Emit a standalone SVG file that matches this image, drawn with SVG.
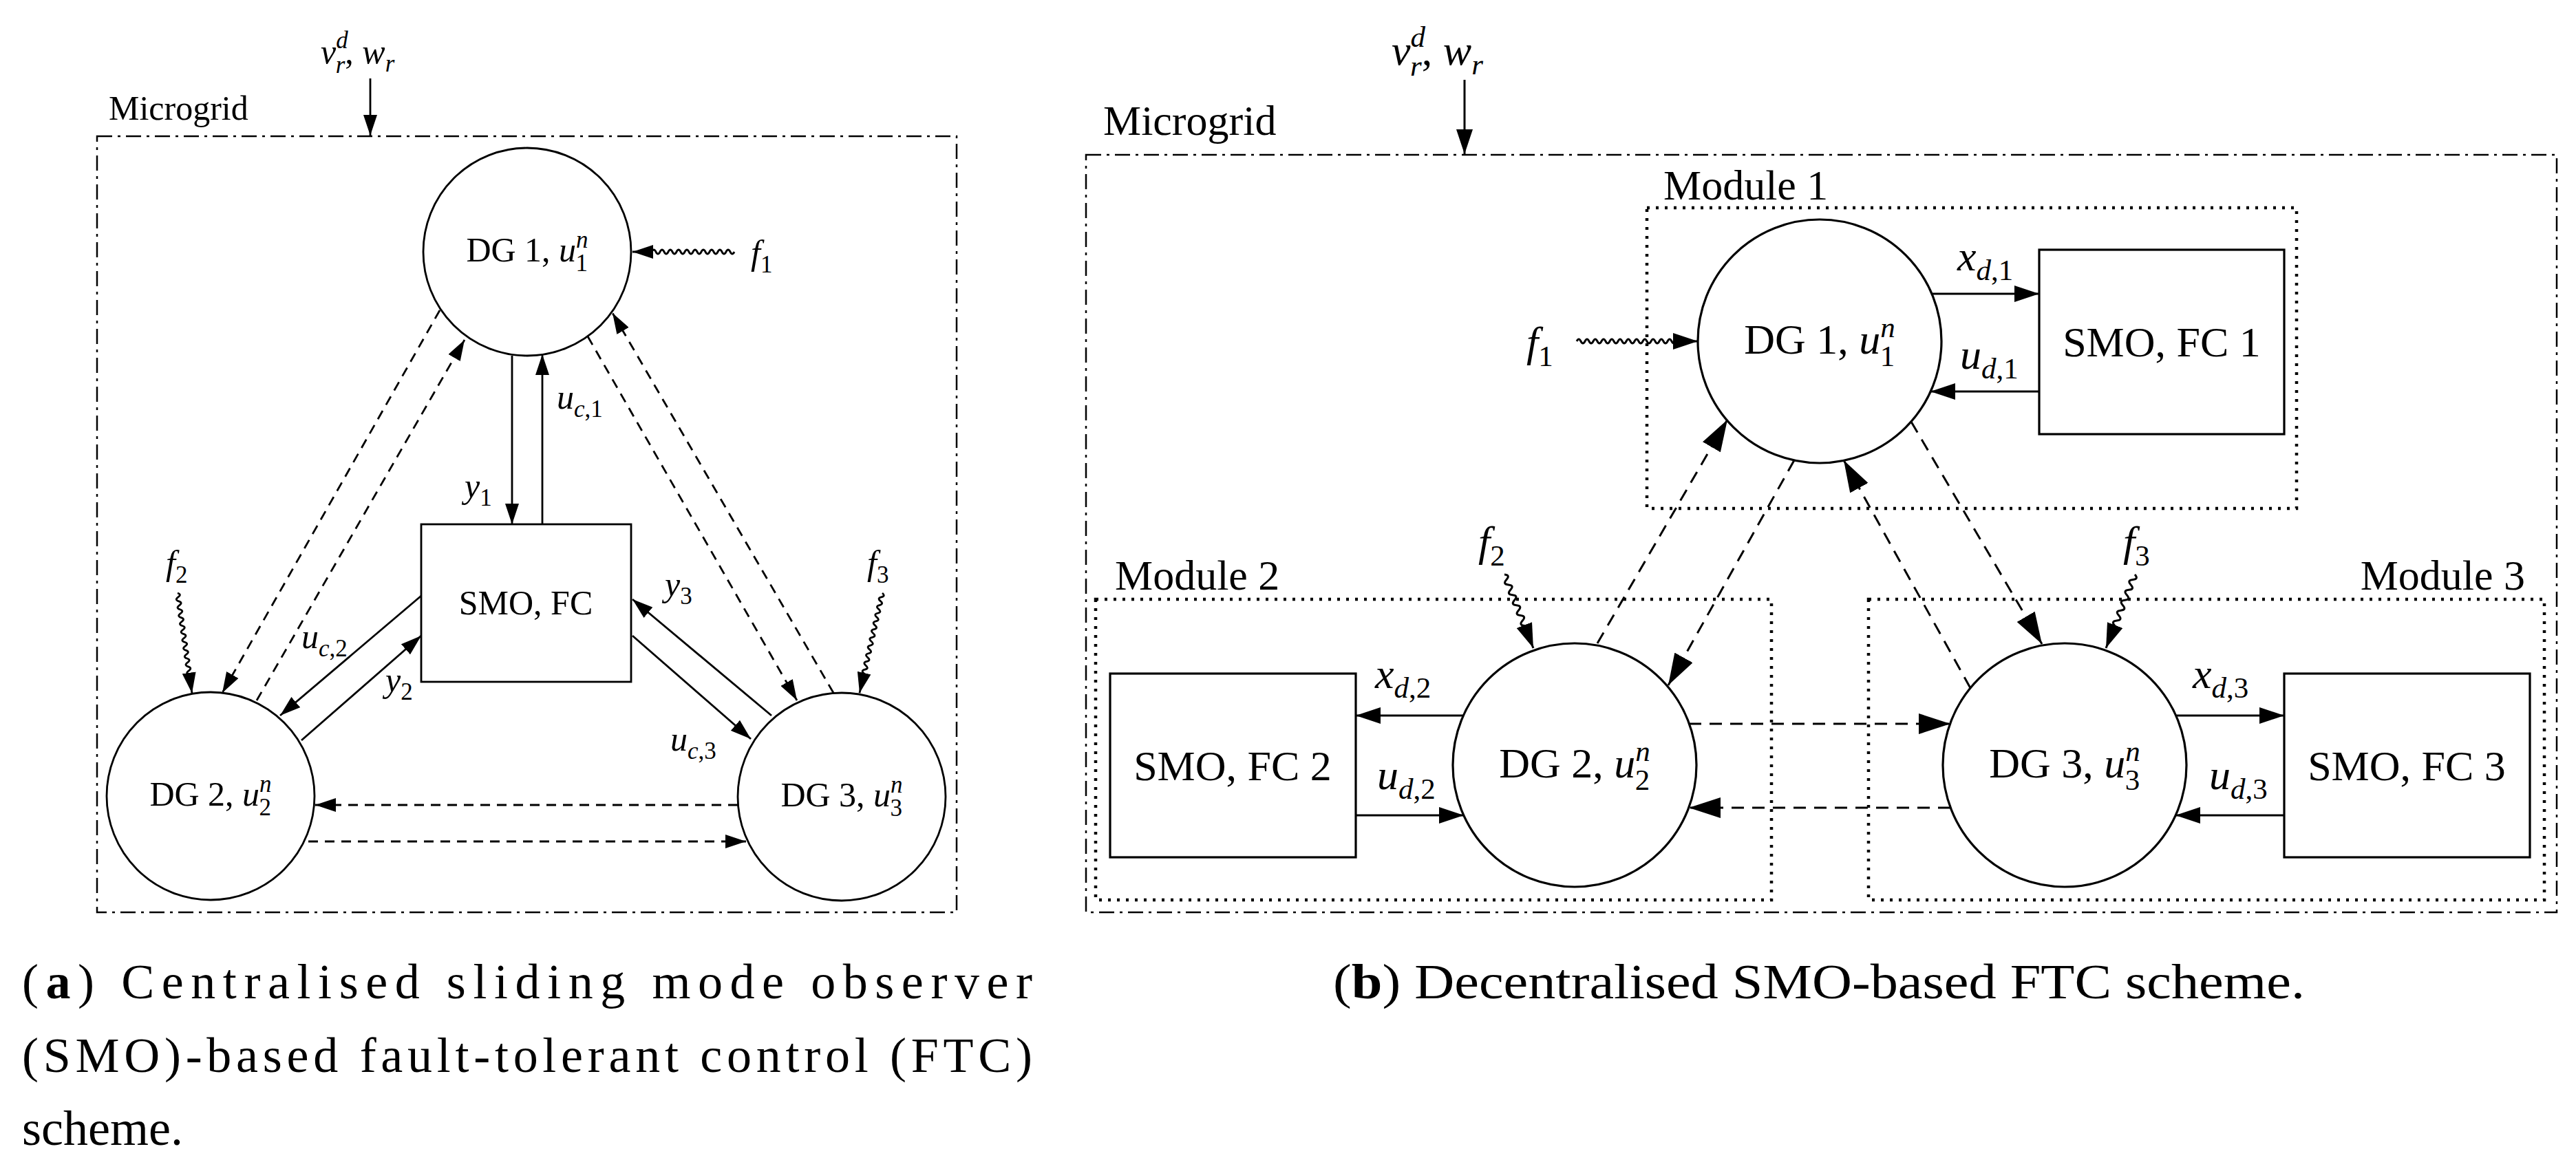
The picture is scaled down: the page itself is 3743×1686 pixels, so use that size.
<svg xmlns="http://www.w3.org/2000/svg" width="3743" height="1686" viewBox="0 0 3743 1686">
<style>
text{font-family:"Liberation Serif","Times New Roman",serif;fill:#000}
.L{font-size:50px}
.R{font-size:62px}
.i{font-style:italic}
.ln{stroke:#000;stroke-width:2.8;fill:none}
.lnR{stroke:#000;stroke-width:3;fill:none}
.ds{stroke-dasharray:14 10}
.dsR{stroke-dasharray:18 12}
.dd{stroke:#000;stroke-width:2.5;fill:none;stroke-dasharray:22 8 4 8}
.dot{stroke:#000;stroke-width:4.5;fill:none;stroke-dasharray:4 9}
.node{stroke:#000;stroke-width:2.8;fill:#fff}
.nodeR{stroke:#000;stroke-width:3.2;fill:#fff}
.cap{font-size:72px}
</style>
<defs>
<marker id="a" markerUnits="userSpaceOnUse" markerWidth="30" markerHeight="20" refX="30" refY="10" orient="auto"><path d="M0,0 L30,10 L0,20 z"/></marker>
<marker id="b" markerUnits="userSpaceOnUse" markerWidth="36" markerHeight="24" refX="36" refY="12" orient="auto"><path d="M0,0 L36,12 L0,24 z"/></marker>
<marker id="c" markerUnits="userSpaceOnUse" markerWidth="46" markerHeight="30" refX="46" refY="15" orient="auto"><path d="M0,0 L46,15 L0,30 z"/></marker>
</defs>

<!-- Panel (a) -->
<g id="microgridA">
<rect class="dd" x="141" y="198" width="1249" height="1128"/>
<text class="L" x="158" y="174">Microgrid</text>
<text class="L" x="466" y="92"><tspan class="i">v</tspan><tspan class="i" font-size="35" dy="-22">d</tspan><tspan class="i" font-size="35" dx="-18" dy="36">r</tspan><tspan dy="-14">, </tspan><tspan class="i">w</tspan><tspan class="i" font-size="35" dy="12">r</tspan></text>
</g>
<g id="DG1a"><circle class="node" cx="766" cy="366" r="151"/>
<text class="L" x="766" y="380" text-anchor="middle">DG 1, <tspan class="i">u</tspan><tspan class="i" font-size="35" dy="-20">n</tspan><tspan font-size="35" dx="-18" dy="34">1</tspan></text></g>
<g id="DG2a"><circle class="node" cx="306" cy="1157" r="151"/>
<text class="L" x="306" y="1171" text-anchor="middle">DG 2, <tspan class="i">u</tspan><tspan class="i" font-size="35" dy="-20">n</tspan><tspan font-size="35" dx="-18" dy="34">2</tspan></text></g>
<g id="DG3a"><circle class="node" cx="1223" cy="1158" r="151"/>
<text class="L" x="1223" y="1172" text-anchor="middle">DG 3, <tspan class="i">u</tspan><tspan class="i" font-size="35" dy="-20">n</tspan><tspan font-size="35" dx="-18" dy="34">3</tspan></text></g>
<g id="SMOa"><rect class="node" x="612" y="762" width="305" height="229"/>
<text class="L" x="764" y="893" text-anchor="middle">SMO, FC</text></g>

<g id="connectorsA">
<line class="ln" x1="744" y1="517" x2="744" y2="762" marker-end="url(#a)"/>
<line class="ln" x1="788" y1="762" x2="788" y2="515" marker-end="url(#a)"/>
<line class="ln" x1="612" y1="866" x2="407" y2="1040" marker-end="url(#a)"/>
<line class="ln" x1="438" y1="1076" x2="612" y2="924" marker-end="url(#a)"/>
<line class="ln" x1="1121" y1="1040" x2="919" y2="871" marker-end="url(#a)"/>
<line class="ln" x1="919" y1="924" x2="1091" y2="1074" marker-end="url(#a)"/>
<line class="ln ds" x1="639" y1="451" x2="323" y2="1007" marker-end="url(#a)"/>
<line class="ln ds" x1="373" y1="1018" x2="675" y2="494" marker-end="url(#a)"/>
<line class="ln ds" x1="854" y1="489" x2="1158" y2="1018" marker-end="url(#a)"/>
<line class="ln ds" x1="1211" y1="1007" x2="890" y2="455" marker-end="url(#a)"/>
<line class="ln ds" x1="1072" y1="1170" x2="458" y2="1170" marker-end="url(#a)"/>
<line class="ln ds" x1="448" y1="1223" x2="1084" y2="1223" marker-end="url(#a)"/>
<line class="ln" x1="538" y1="114" x2="538" y2="197" marker-end="url(#a)" stroke-width="3.5"/>
<path class="ln" transform="translate(1067,366) rotate(180)" d="M0,0 q3,-6 6,0 t6,0 t6,0 t6,0 t6,0 t6,0 t6,0 t6,0 t6,0 t6,0 t6,0 t6,0 t6,0 t6,0 t6,0 t6,0 t6,0 t6,0 t6,0 t6,0 L148,0" marker-end="url(#a)"/>
<path class="ln" transform="translate(258,862) rotate(81.8)" d="M0,0 q3,-6 6,0 t6,0 t6,0 t6,0 t6,0 t6,0 t6,0 t6,0 t6,0 t6,0 t6,0 t6,0 t6,0 t6,0 t6,0 t6,0 t6,0 t6,0 t6,0 t6,0 L147,0" marker-end="url(#a)"/>
<path class="ln" transform="translate(1282,862) rotate(102.8)" d="M0,0 q3,-6 6,0 t6,0 t6,0 t6,0 t6,0 t6,0 t6,0 t6,0 t6,0 t6,0 t6,0 t6,0 t6,0 t6,0 t6,0 t6,0 t6,0 t6,0 t6,0 t6,0 L149,0" marker-end="url(#a)"/>
<text class="L" x="809" y="594"><tspan class="i">u</tspan><tspan font-size="35" dy="12"><tspan class="i">c</tspan>,1</tspan></text>
<text class="L" x="675" y="723"><tspan class="i">y</tspan><tspan font-size="35" dy="12">1</tspan></text>
<text class="L" x="438" y="942"><tspan class="i">u</tspan><tspan font-size="35" dy="12"><tspan class="i">c</tspan>,2</tspan></text>
<text class="L" x="560" y="1005"><tspan class="i">y</tspan><tspan font-size="35" dy="12">2</tspan></text>
<text class="L" x="966" y="866"><tspan class="i">y</tspan><tspan font-size="35" dy="12">3</tspan></text>
<text class="L" x="974" y="1091"><tspan class="i">u</tspan><tspan font-size="35" dy="12"><tspan class="i">c</tspan>,3</tspan></text>
<text class="L" x="1091" y="384"><tspan class="i">f</tspan><tspan font-size="35" dy="12">1</tspan></text>
<text class="L" x="241" y="835"><tspan class="i">f</tspan><tspan font-size="35" dy="12">2</tspan></text>
<text class="L" x="1260" y="835"><tspan class="i">f</tspan><tspan font-size="35" dy="12">3</tspan></text>
</g>

<!-- Panel (b) -->
<g id="microgridB">
<rect class="dd" x="1578" y="225" width="2137" height="1101"/>
<text class="R" x="1603" y="196">Microgrid</text>
<text class="R" x="2022" y="94"><tspan class="i">v</tspan><tspan class="i" font-size="43" dy="-26">d</tspan><tspan class="i" font-size="43" dx="-22" dy="42">r</tspan><tspan dy="-16">, </tspan><tspan class="i">w</tspan><tspan class="i" font-size="43" dy="14">r</tspan></text>
</g>
<g id="module1"><rect class="dot" x="2393" y="302" width="944" height="437"/><text class="R" x="2417" y="290">Module 1</text></g>
<g id="module2"><rect class="dot" x="1592" y="871" width="982" height="437"/><text class="R" x="1620" y="857">Module 2</text></g>
<g id="module3"><rect class="dot" x="2715" y="871" width="982" height="437"/><text class="R" x="3669" y="857" text-anchor="end">Module 3</text></g>
<g id="DG1b"><circle class="nodeR" cx="2644" cy="496" r="177"/>
<text class="R" x="2644" y="514" text-anchor="middle">DG 1, <tspan class="i">u</tspan><tspan class="i" font-size="43" dy="-24">n</tspan><tspan font-size="43" dx="-22" dy="42">1</tspan></text></g>
<g id="DG2b"><circle class="nodeR" cx="2288" cy="1112" r="177"/>
<text class="R" x="2288" y="1130" text-anchor="middle">DG 2, <tspan class="i">u</tspan><tspan class="i" font-size="43" dy="-24">n</tspan><tspan font-size="43" dx="-22" dy="42">2</tspan></text></g>
<g id="DG3b"><circle class="nodeR" cx="3000" cy="1112" r="177"/>
<text class="R" x="3000" y="1130" text-anchor="middle">DG 3, <tspan class="i">u</tspan><tspan class="i" font-size="43" dy="-24">n</tspan><tspan font-size="43" dx="-22" dy="42">3</tspan></text></g>
<g id="SMOFC1"><rect class="nodeR" x="2963" y="363" width="356" height="268"/><text class="R" x="3141" y="518" text-anchor="middle">SMO, FC 1</text></g>
<g id="SMOFC2"><rect class="nodeR" x="1613" y="979" width="357" height="267"/><text class="R" x="1791" y="1134" text-anchor="middle">SMO, FC 2</text></g>
<g id="SMOFC3"><rect class="nodeR" x="3319" y="979" width="357" height="267"/><text class="R" x="3497" y="1134" text-anchor="middle">SMO, FC 3</text></g>

<g id="connectorsB">
<line class="lnR" x1="2128" y1="116" x2="2128" y2="224" marker-end="url(#b)" stroke-width="3.5"/>
<line class="lnR" x1="2807" y1="427" x2="2963" y2="427" marker-end="url(#b)"/>
<line class="lnR" x1="2963" y1="569" x2="2805" y2="569" marker-end="url(#b)"/>
<line class="lnR" x1="2126" y1="1040" x2="1970" y2="1040" marker-end="url(#b)"/>
<line class="lnR" x1="1970" y1="1185" x2="2127" y2="1185" marker-end="url(#b)"/>
<line class="lnR" x1="3162" y1="1040" x2="3319" y2="1040" marker-end="url(#b)"/>
<line class="lnR" x1="3319" y1="1185" x2="3161" y2="1185" marker-end="url(#b)"/>
<line class="lnR dsR" x1="2454" y1="1052" x2="2834" y2="1052" marker-end="url(#c)"/>
<line class="lnR dsR" x1="2834" y1="1174" x2="2454" y2="1174" marker-end="url(#c)"/>
<line class="lnR dsR" x1="2321" y1="935" x2="2510" y2="610" marker-end="url(#c)"/>
<line class="lnR dsR" x1="2607" y1="669" x2="2424" y2="996" marker-end="url(#c)"/>
<line class="lnR dsR" x1="2863" y1="1000" x2="2679" y2="669" marker-end="url(#c)"/>
<line class="lnR dsR" x1="2777" y1="613" x2="2967" y2="936" marker-end="url(#c)"/>
<path class="lnR" transform="translate(2291,496)" d="M0,0 q3,-6 6,0 t6,0 t6,0 t6,0 t6,0 t6,0 t6,0 t6,0 t6,0 t6,0 t6,0 t6,0 t6,0 t6,0 t6,0 t6,0 t6,0 t6,0 t6,0 t6,0 t6,0 t6,0 t6,0 t6,0 L176,0" marker-end="url(#b)"/>
<path class="lnR" transform="translate(2186,835) rotate(68.6)" d="M0,0 q4,-8 8,0 t8,0 t8,0 t8,0 t8,0 t8,0 t8,0 t8,0 t8,0 t8,0 L115,0" marker-end="url(#b)"/>
<path class="lnR" transform="translate(3102,835) rotate(111.4)" d="M0,0 q4,-8 8,0 t8,0 t8,0 t8,0 t8,0 t8,0 t8,0 t8,0 t8,0 t8,0 L115,0" marker-end="url(#b)"/>
<text class="R" x="2844" y="393"><tspan class="i">x</tspan><tspan font-size="43" dy="14"><tspan class="i">d</tspan>,1</tspan></text>
<text class="R" x="2848" y="536"><tspan class="i">u</tspan><tspan font-size="43" dy="14"><tspan class="i">d</tspan>,1</tspan></text>
<text class="R" x="1998" y="1000"><tspan class="i">x</tspan><tspan font-size="43" dy="14"><tspan class="i">d</tspan>,2</tspan></text>
<text class="R" x="2001" y="1147"><tspan class="i">u</tspan><tspan font-size="43" dy="14"><tspan class="i">d</tspan>,2</tspan></text>
<text class="R" x="3186" y="1000"><tspan class="i">x</tspan><tspan font-size="43" dy="14"><tspan class="i">d</tspan>,3</tspan></text>
<text class="R" x="3210" y="1147"><tspan class="i">u</tspan><tspan font-size="43" dy="14"><tspan class="i">d</tspan>,3</tspan></text>
<text class="R" x="2218" y="518"><tspan class="i">f</tspan><tspan font-size="43" dy="14">1</tspan></text>
<text class="R" x="2148" y="808"><tspan class="i">f</tspan><tspan font-size="43" dy="14">2</tspan></text>
<text class="R" x="3085" y="808"><tspan class="i">f</tspan><tspan font-size="43" dy="14">3</tspan></text>
</g>

<g id="captions">
<text class="cap" x="32" y="1451" textLength="1468" lengthAdjust="spacing">(<tspan font-weight="bold">a</tspan>) Centralised sliding mode observer</text>
<text class="cap" x="32" y="1558" textLength="1468" lengthAdjust="spacing">(SMO)-based fault-tolerant control (FTC)</text>
<text class="cap" x="32" y="1664">scheme.</text>
<text class="cap" x="1937" y="1451" textLength="1412" lengthAdjust="spacingAndGlyphs">(<tspan font-weight="bold">b</tspan>) Decentralised SMO-based FTC scheme.</text>
</g>
</svg>
